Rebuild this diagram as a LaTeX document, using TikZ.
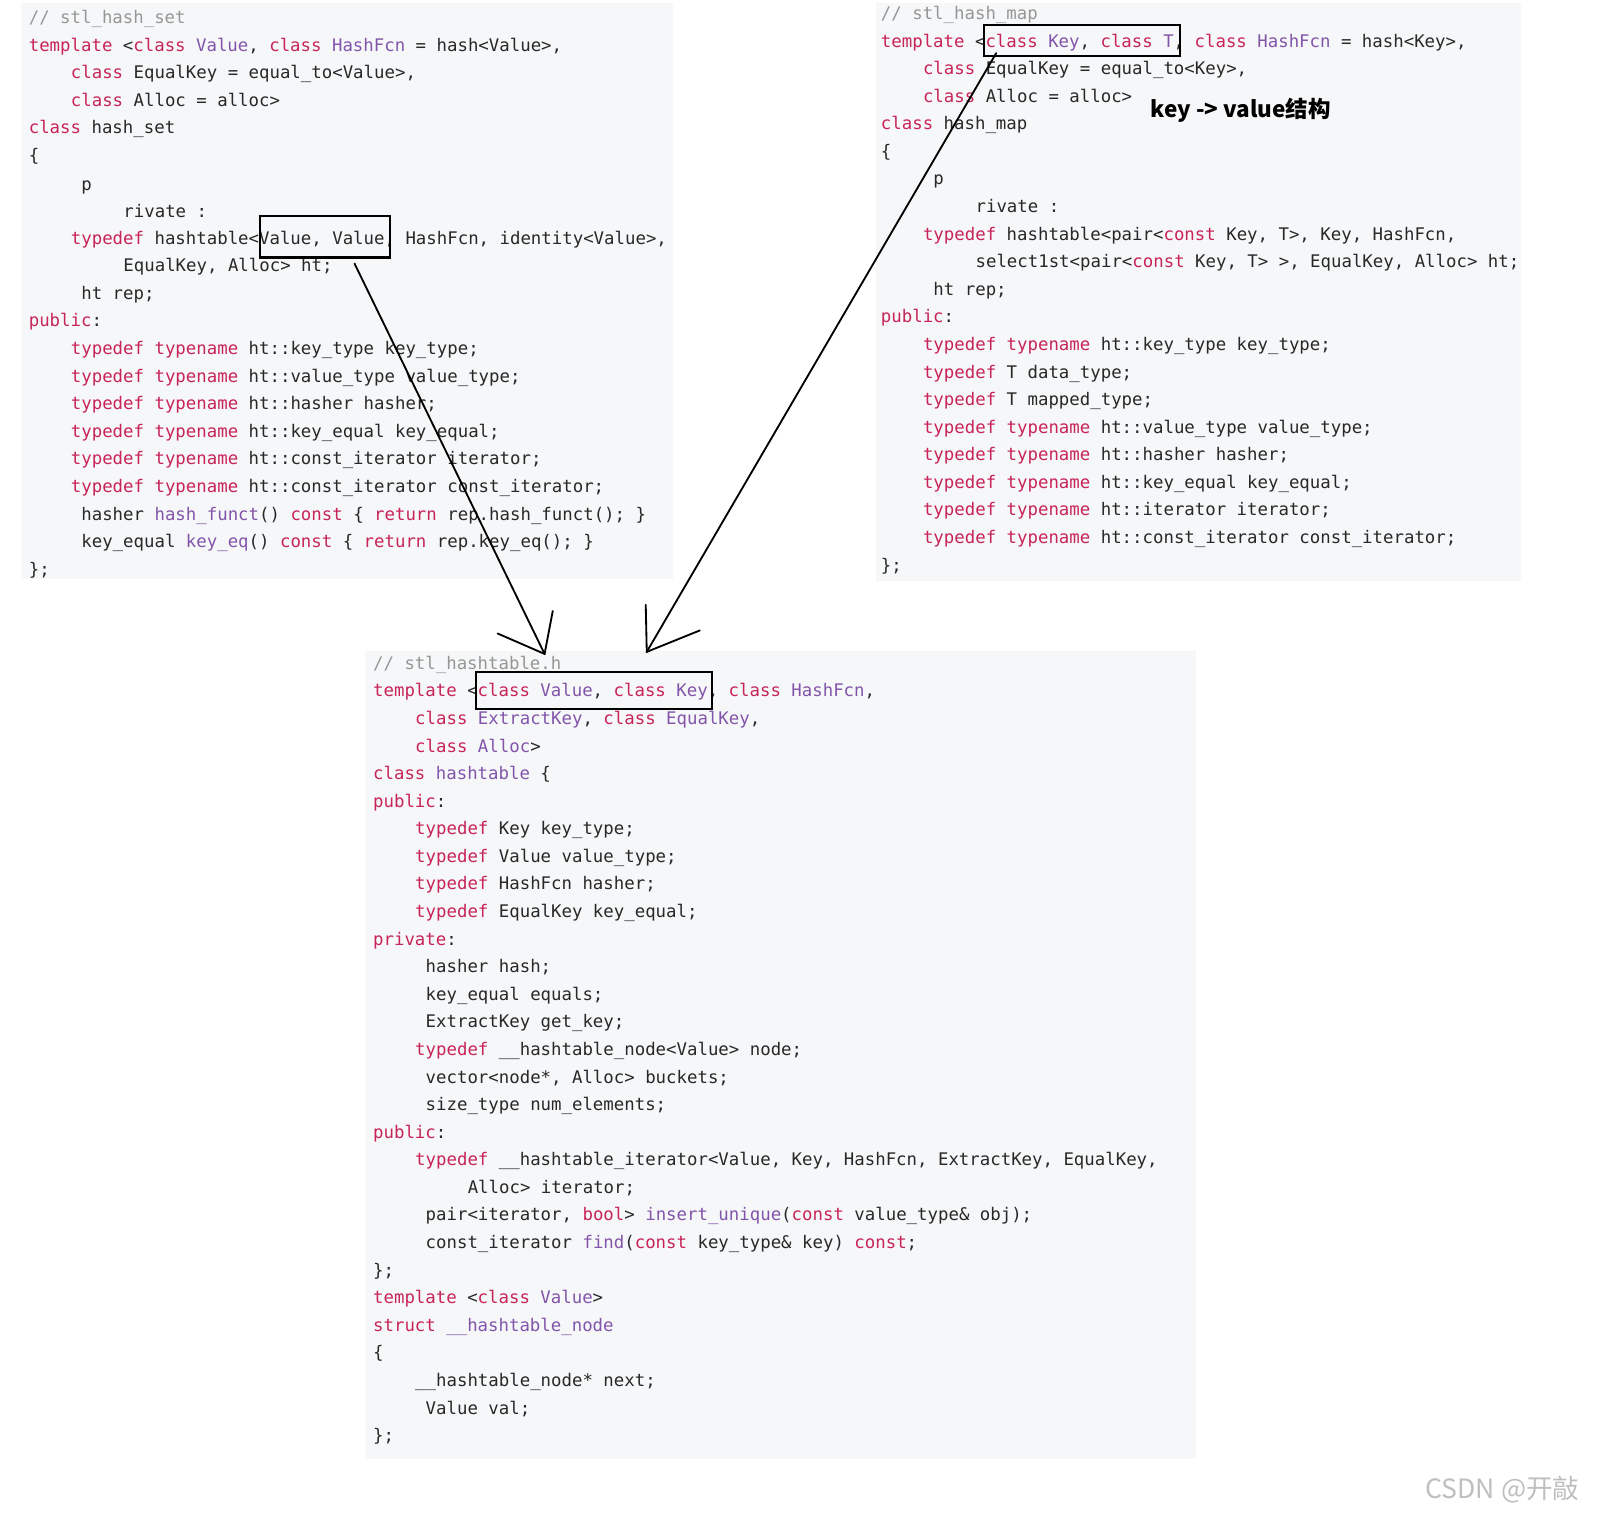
\documentclass[tikz,border=0pt]{standalone}
\usepackage{fontspec}
\setmonofont{DejaVu Sans Mono}
\newfontfamily\cjk{Noto Sans CJK SC}
\definecolor{kwc}{RGB}{200,36,90}
\definecolor{tyc}{RGB}{130,85,170}
\definecolor{cmc}{RGB}{150,150,150}
\definecolor{txc}{RGB}{40,40,40}
\definecolor{bgc}{RGB}{246,247,248}
\newcommand\kw[1]{\textcolor{kwc}{#1}}
\newcommand\ty[1]{\textcolor{tyc}{#1}}
\newcommand\cm[1]{\textcolor{cmc}{#1}}
\newcommand\ind[1]{\hspace*{#1\dimexpr 10.3pt\relax}}
\newcounter{lnc}
\newcommand\codeln[3]{\stepcounter{lnc}\node[code] (ln\thelnc) at (#1,#2) {#3};}
\begin{document}
\begin{tikzpicture}[x=1pt,y=-1pt,
  code/.style={anchor=base west,inner sep=0pt,font=\ttfamily\fontsize{17}{20}\selectfont,text=txc},
  panel/.style={fill=bgc,draw=none},
  hbox/.style={draw=black,line width=2pt},
  hand/.style={draw=black,line width=1.8pt,line cap=round}]
\useasboundingbox[fill=white] (0,0) rectangle (1565,1481);
\fill[bgc] (21,3) rectangle (659,567);
\fill[bgc] (857,3) rectangle (1489,569);
\fill[bgc] (357,637) rectangle (1171,1428);
% panel 1
\def\X{28}
\codeln{\X}{23}{\cm{// stl\_hash\_set}}
\codeln{\X}{50}{\kw{template} <\kw{class} \ty{Value}, \kw{class} \ty{HashFcn} = hash<Value>,}
\codeln{\X}{77}{\ind4\kw{class} EqualKey = equal\_to<Value>,}
\codeln{\X}{104}{\ind4\kw{class} Alloc = alloc>}
\codeln{\X}{131}{\kw{class} hash\_set}
\codeln{\X}{158}{\{}
\codeln{\X}{186}{\ind4 p}
\codeln{\X}{213}{\ind8 rivate :}
\codeln{\X}{239}{\ind4\kw{typedef} hashtable<Value, Value, HashFcn, identity<Value>,}
\codeln{\X}{266}{\ind8 EqualKey, Alloc> ht;}
\codeln{\X}{293}{\ind4 ht rep;}
\codeln{\X}{320}{\kw{public}:}
\codeln{\X}{347}{\ind4\kw{typedef} \kw{typename} ht::key\_type key\_type;}
\codeln{\X}{374}{\ind4\kw{typedef} \kw{typename} ht::value\_type value\_type;}
\codeln{\X}{401}{\ind4\kw{typedef} \kw{typename} ht::hasher hasher;}
\codeln{\X}{428}{\ind4\kw{typedef} \kw{typename} ht::key\_equal key\_equal;}
\codeln{\X}{455}{\ind4\kw{typedef} \kw{typename} ht::const\_iterator iterator;}
\codeln{\X}{482}{\ind4\kw{typedef} \kw{typename} ht::const\_iterator const\_iterator;}
\codeln{\X}{509}{\ind4 hasher \ty{hash\_funct}() \kw{const} \{ \kw{return} rep.hash\_funct(); \}}
\codeln{\X}{536}{\ind4 key\_equal \ty{key\_eq}() \kw{const} \{ \kw{return} rep.key\_eq(); \}}
\codeln{\X}{563}{\};}
% panel 2
\def\X{862}
\codeln{\X}{19}{\cm{// stl\_hash\_map}}
\codeln{\X}{46}{\kw{template} <\kw{class} \ty{Key}, \kw{class} \ty{T}, \kw{class} \ty{HashFcn} = hash<Key>,}
\codeln{\X}{73}{\ind4\kw{class} EqualKey = equal\_to<Key>,}
\codeln{\X}{100}{\ind4\kw{class} Alloc = alloc>}
\codeln{\X}{127}{\kw{class} hash\_map}
\codeln{\X}{154}{\{}
\codeln{\X}{181}{\ind4 p}
\codeln{\X}{208}{\ind8 rivate :}
\codeln{\X}{235}{\ind4\kw{typedef} hashtable<pair<\kw{const} Key, T>, Key, HashFcn,}
\codeln{\X}{262}{\ind8 select1st<pair<\kw{const} Key, T> >, EqualKey, Alloc> ht;}
\codeln{\X}{289}{\ind4 ht rep;}
\codeln{\X}{316}{\kw{public}:}
\codeln{\X}{343}{\ind4\kw{typedef} \kw{typename} ht::key\_type key\_type;}
\codeln{\X}{370}{\ind4\kw{typedef} T data\_type;}
\codeln{\X}{397}{\ind4\kw{typedef} T mapped\_type;}
\codeln{\X}{424}{\ind4\kw{typedef} \kw{typename} ht::value\_type value\_type;}
\codeln{\X}{451}{\ind4\kw{typedef} \kw{typename} ht::hasher hasher;}
\codeln{\X}{478}{\ind4\kw{typedef} \kw{typename} ht::key\_equal key\_equal;}
\codeln{\X}{505}{\ind4\kw{typedef} \kw{typename} ht::iterator iterator;}
\codeln{\X}{532}{\ind4\kw{typedef} \kw{typename} ht::const\_iterator const\_iterator;}
\codeln{\X}{559}{\};}
\node[anchor=west,inner sep=0pt,font=\cjk\bfseries\fontsize{22}{26}\selectfont] (kv) at (1126,108) {key -> value结构};
% panel 3
\def\X{365}
\codeln{\X}{655}{\cm{// stl\_hashtable.h}}
\codeln{\X}{682}{\kw{template} <\kw{class} \ty{Value}, \kw{class} \ty{Key}, \kw{class} \ty{HashFcn},}
\codeln{\X}{709}{\ind4\kw{class} \ty{ExtractKey}, \kw{class} \ty{EqualKey},}
\codeln{\X}{736}{\ind4\kw{class} \ty{Alloc}>}
\codeln{\X}{763}{\kw{class} \ty{hashtable} \{}
\codeln{\X}{790}{\kw{public}:}
\codeln{\X}{817}{\ind4\kw{typedef} Key key\_type;}
\codeln{\X}{844}{\ind4\kw{typedef} Value value\_type;}
\codeln{\X}{871}{\ind4\kw{typedef} HashFcn hasher;}
\codeln{\X}{898}{\ind4\kw{typedef} EqualKey key\_equal;}
\codeln{\X}{925}{\kw{private}:}
\codeln{\X}{952}{\ind4 hasher hash;}
\codeln{\X}{979}{\ind4 key\_equal equals;}
\codeln{\X}{1006}{\ind4 ExtractKey get\_key;}
\codeln{\X}{1033}{\ind4\kw{typedef} \_\_hashtable\_node<Value> node;}
\codeln{\X}{1060}{\ind4 vector<node*, Alloc> buckets;}
\codeln{\X}{1087}{\ind4 size\_type num\_elements;}
\codeln{\X}{1114}{\kw{public}:}
\codeln{\X}{1141}{\ind4\kw{typedef} \_\_hashtable\_iterator<Value, Key, HashFcn, ExtractKey, EqualKey,}
\codeln{\X}{1168}{\ind8 Alloc> iterator;}
\codeln{\X}{1195}{\ind4 pair<iterator, \kw{bool}> \ty{insert\_unique}(\kw{const} value\_type\& obj);}
\codeln{\X}{1222}{\ind4 const\_iterator \ty{find}(\kw{const} key\_type\& key) \kw{const};}
\codeln{\X}{1249}{\};}
\codeln{\X}{1276}{\kw{template} <\kw{class} \ty{Value}>}
\codeln{\X}{1303}{\kw{struct} \ty{\_\_hashtable\_node}}
\codeln{\X}{1330}{\{}
\codeln{\X}{1357}{\ind4\_\_hashtable\_node* next;}
\codeln{\X}{1384}{\ind4 Value val;}
\codeln{\X}{1411}{\};}
% boxes
\draw[hbox] (254,211) rectangle (382,252);
\draw[hbox] (963,24) rectangle (1155,55);
\draw[hbox] (466,658) rectangle (697,694);
% hand-drawn arrows
\coordinate (a1s) at (347,258); \coordinate (a1e) at (533,640);
\coordinate (a1l) at (487,620); \coordinate (a1r) at (541,598);
\coordinate (a2s) at (975,52); \coordinate (a2e) at (633,638);
\coordinate (a2l) at (632,592); \coordinate (a2r) at (685,617);
\draw[hand] (a1s) -- (a1e);
\draw[hand] (a1l) -- (a1e) -- (a1r);
\draw[hand] (a2s) -- (a2e);
\draw[hand] (a2l) -- (a2e) -- (a2r);
% watermark
\node[anchor=west,inner sep=0pt,text=black!25,font=\cjk\fontsize{26}{30}\selectfont] (wm) at (1395,1458) {CSDN @开敲};
\end{tikzpicture}
\end{document}
